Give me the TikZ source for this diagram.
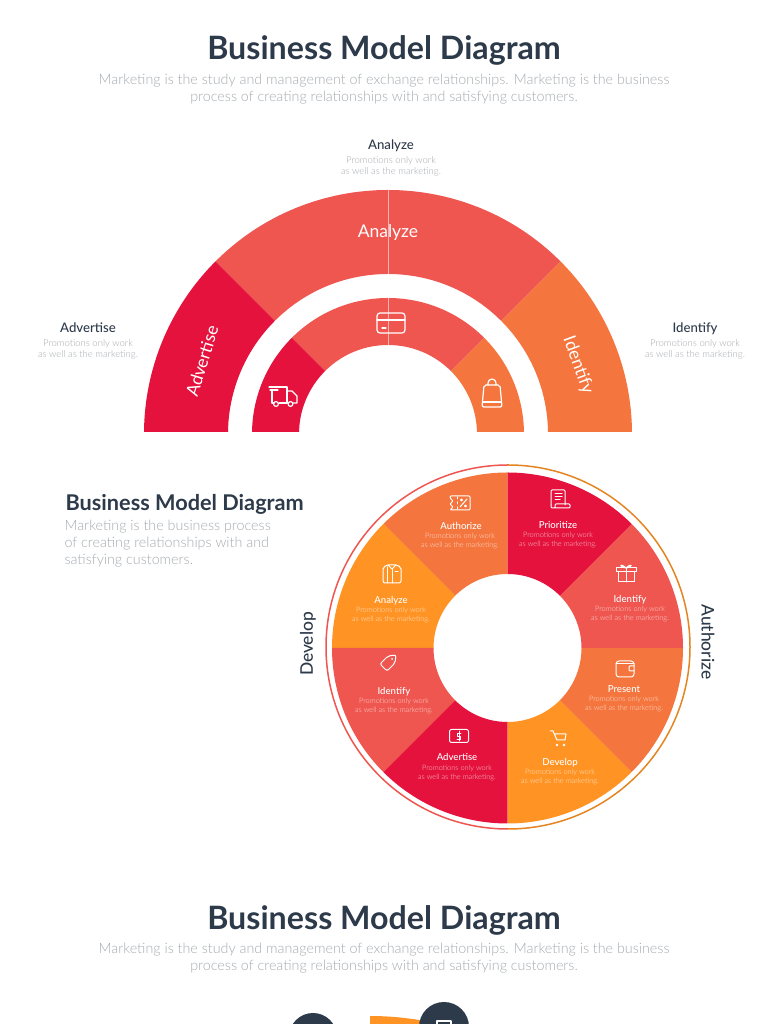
\documentclass[tikz,border=0pt]{standalone}
\usepackage{fontspec}
\setmainfont{Lato}
\newfontfamily\lightfont{Lato Light}
\newfontfamily\mediumfont{Lato Medium}
\definecolor{crimson}{HTML}{E4123C}
\definecolor{coral}{HTML}{EF5650}
\definecolor{tangerine}{HTML}{F4763E}
\definecolor{amber}{HTML}{FF9425}
\definecolor{inkdark}{HTML}{2D3A4A}
\definecolor{softgrey}{HTML}{A6ABB0}
\newcommand{\ringwedge}[5]{\fill[#1] (#2:#3) arc (#2:#4:#3) -- (#4:#5) arc (#4:#2:#5) -- cycle;}
\tikzset{
  headline/.style={font=\bfseries\fontsize{32.2}{36}\selectfont,text=inkdark},
  subline/.style={font=\lightfont\fontsize{14.3}{17.1}\selectfont,text=softgrey,align=center},
  sidename/.style={font=\mediumfont\fontsize{13.2}{16}\selectfont,text=inkdark,anchor=base},
  sidetext/.style={font=\lightfont\fontsize{9.5}{11}\selectfont,text=softgrey,align=center},
  bandname/.style={font=\fontsize{17.5}{21}\selectfont,text=white},
  wedgename/.style={font=\mediumfont\fontsize{9.6}{12}\selectfont,text=white,anchor=base},
  wedgetext/.style={font=\lightfont\fontsize{7.4}{8.8}\selectfont,text=white,text opacity=.75,align=center},
  ringname/.style={font=\mediumfont\fontsize{17.4}{20}\selectfont,text=inkdark},
  icon/.style={draw=white,line width=1pt,line cap=round,line join=round},
  pics/cardicon/.style={code={
    \draw[icon,line width=1.2pt,rounded corners=3pt] (-14,-10) rectangle (14,10);
    \draw[icon,line width=1.2pt] (-14,3) -- (14,3) (-9,-5) -- (-5,-5);}},
  pics/truckicon/.style={code={
    \draw[icon,line width=1.2pt] (-14,9) -- (4,9) -- (4,-7) -- (-4,-7);
    \draw[icon,line width=1.2pt] (-13,6) -- (-5,6) (-11,6) -- (-11,-7) -- (-9,-7);
    \draw[icon,line width=1.2pt] (4,5) -- (9,5) -- (14,0) -- (14,-7) -- (10,-7) (4,-7) -- (5,-7);
    \draw[icon,line width=1.2pt] (-7,-8) circle (2.4) (7.5,-8) circle (2.4);}},
  pics/bagicon/.style={code={
    \draw[icon,line width=1.2pt,rounded corners=2pt] (-8,8) -- (8,8) -- (10,-14) -- (-10,-14) -- cycle;
    \draw[icon,line width=1.2pt] (-9,-9) -- (9,-9);
    \draw[icon,line width=1.2pt] (-4,8) -- (-4,10) arc (180:0:4) -- (4,8);}},
  pics/couponicon/.style={code={
    \draw[icon,rounded corners=1pt] (-10,7) -- (10,7) -- (10,-7) -- (-10,-7) -- (-7,-4) -- (-10,-1) -- (-7,2) -- (-10,5) -- cycle;
    \draw[icon] (-3,6) -- (-3,4) (-3,1) -- (-3,-1) (-3,-4) -- (-3,-6);
    \draw[icon] (0,-4) -- (7,4) (1.5,3) circle (1) (5.5,-3) circle (1);}},
  pics/shirticon/.style={code={
    \draw[icon,rounded corners=2pt] (-4,9) -- (-9,7) -- (-9,-9) -- (9,-9) -- (9,7) -- (4,9);
    \draw[icon] (-4,9) -- (4,9) -- (0,5) -- cycle;
    \draw[icon] (-5,7) -- (-5,-9) (0,5) -- (0,-9) (3,2) -- (6,2);}},
  pics/scrollicon/.style={code={
    \draw[icon,rounded corners=1pt] (-9,-6) -- (-9,9) -- (5,9) -- (5,-6);
    \draw[icon,rounded corners=1pt] (-9,-6) -- (-9,-9) -- (10,-9) -- (10,-5) -- (-5,-5) -- (-5,-9);
    \draw[icon] (-5,5) -- (2,5) (-5,2) -- (2,2) (-5,-1) -- (0,-1);}},
  pics/gifticon/.style={code={
    \draw[icon] (-10,4) rectangle (10,0) (-8,0) rectangle (8,-10) (0,4) -- (0,-10);
    \draw[icon] (0,4) .. controls (-6,10) and (-8,5) .. (0,4) .. controls (6,10) and (8,5) .. (0,4);}},
  pics/walleticon/.style={code={
    \draw[icon,rounded corners=3pt] (-9,7) -- (9,7) -- (9,-9) -- (-9,-9) -- cycle;
    \draw[icon] (-9,4) -- (9,4);
    \draw[icon,rounded corners=1pt] (9,2) -- (4,2) -- (4,-3) -- (9,-3);}},
  pics/carticon/.style={code={
    \draw[icon] (-8,7) -- (-5,7) -- (-1,-2) -- (7,-2) -- (8,4) -- (-3,4);
    \fill[white] (-1,-7) circle (1.3) (6,-7) circle (1.3);}},
  pics/tagicon/.style={code={
    \draw[icon,rounded corners=2pt] (8,8) -- (0,7) -- (-8,-1) -- (-1,-8) -- (7,0) -- cycle;
    \fill[white] (4,4) circle (1);}},
  pics/moneyicon/.style={code={
    \draw[icon,rounded corners=2pt] (-9.5,-6.5) rectangle (9.5,6.5);
    \draw[icon,line width=.8pt] (2,3) -- (-1.5,3) -- (-1.5,0) -- (1.5,0) -- (1.5,-3) -- (-2,-3) (0,5) -- (0,-5);}},
}
\begin{document}
\begin{tikzpicture}[x=1pt,y=1pt]
\useasboundingbox (0,0) rectangle (768,1024);
\clip (0,0) rectangle (768,1024);
\fill[white] (0,0) rectangle (768,1024);

% first block
\node[headline] (title) at (384,973.5) {Business Model Diagram};
\node[subline] (intro) at (384,935) {Marketing is the study and management of exchange relationships. Marketing is the business\\process of creating relationships with and satisfying customers.};

\node[sidename] (analyzehead) at (391,874) {Analyze};
\node[sidetext] (analyzetext) at (391,858) {Promotions only work\\as well as the marketing.};
\node[sidename] (advertisehead) at (88,691) {Advertise};
\node[sidetext] (advertisetext) at (88,675) {Promotions only work\\as well as the marketing.};
\node[sidename] (identifyhead) at (695,691) {Identify};
\node[sidetext] (identifytext) at (695,675) {Promotions only work\\as well as the marketing.};

\begin{scope}[shift={(388,590)}]
\clip (-250,2) rectangle (250,250);
\foreach \from/\to/\col in {0/45/tangerine,45/135/coral,135/180/crimson}{
  \ringwedge{\col}{\from}{244}{\to}{160}
  \ringwedge{\col}{\from}{136}{\to}{89}
}
\draw[white!55!coral,line width=.6pt] (0,160) -- (0,244) (0,89) -- (0,136);
\end{scope}
\node[bandname,anchor=base] (analyzeband) at (388,786) {Analyze};
\node[bandname,rotate=73] (advertiseband) at (202,663) {Advertise};
\node[bandname,rotate=-70] (identifyband) at (578,659) {Identify};
\pic at (391,701) {cardicon};
\pic at (283,628) {truckicon};
\pic at (492,631) {bagicon};

% second block
\node[headline,font=\bfseries\fontsize{21.7}{26}\selectfont,anchor=west] (sidetitle) at (62,519.5) {Business Model Diagram};
\node[subline,align=left,anchor=north west] (sideintro) at (61,507.5) {Marketing is the business process\\of creating relationships with and\\satisfying customers.};

\begin{scope}[shift={(507.5,376)}]
\foreach \from/\col [evaluate=\from as \to using \from+45] in {90/tangerine,135/amber,180/coral,225/crimson,270/amber,315/tangerine,0/coral,45/crimson}{
  \ringwedge{\col}{\from}{175.5}{\to}{74}
}
\end{scope}
\draw[coral,line width=1.5pt] (508,559) arc (90:270:182);
\draw[amber!90!black,line width=1.5pt] (508,559) arc (90:-90:182);
\node[ringname,rotate=90] (developside) at (308,380) {Develop};
\node[ringname,rotate=-90] (authorizeside) at (708,382) {Authorize};

\foreach \tag/\word/\lx/\ly/\tx/\ty in {
  a/Authorize/461/494/460/483,
  b/Analyze/391/420/391/409,
  c/Prioritize/558/495/558/484,
  d/Identify/630/421/630/410,
  e/Present/624/331/624/320,
  f/Develop/560/258/560/247,
  g/Identify/394/329/394/318,
  h/Advertise/457/263/457/251}{
  \node[wedgename] (name\tag) at (\lx,\ly) {\word};
  \node[wedgetext] (text\tag) at (\tx,\ty) {Promotions only work\\as well as the marketing.};
}
\pic at (460,521) {couponicon};
\pic at (392,450) {shirticon};
\pic at (560,525) {scrollicon};
\pic at (626,452) {gifticon};
\pic at (625,356) {walleticon};
\pic at (558,286) {carticon};
\pic at (388,361) {tagicon};
\pic at (459,288) {moneyicon};

% third block
\node[headline] (lowertitle) at (384,103.5) {Business Model Diagram};
\node[subline] (lowerintro) at (384,65.5) {Marketing is the study and management of exchange relationships. Marketing is the business\\process of creating relationships with and satisfying customers.};

\fill[amber] (370,0) -- (370,8) .. controls (390,8) and (410,6) .. (430,2) -- (430,0) -- cycle;
\fill[inkdark] (313,-13) circle (24);
\fill[inkdark] (444,-3) circle (25);
\draw[icon,line width=1.2pt] (437,0) -- (437,3) -- (451,3) -- (451,0);
\end{tikzpicture}
\end{document}
